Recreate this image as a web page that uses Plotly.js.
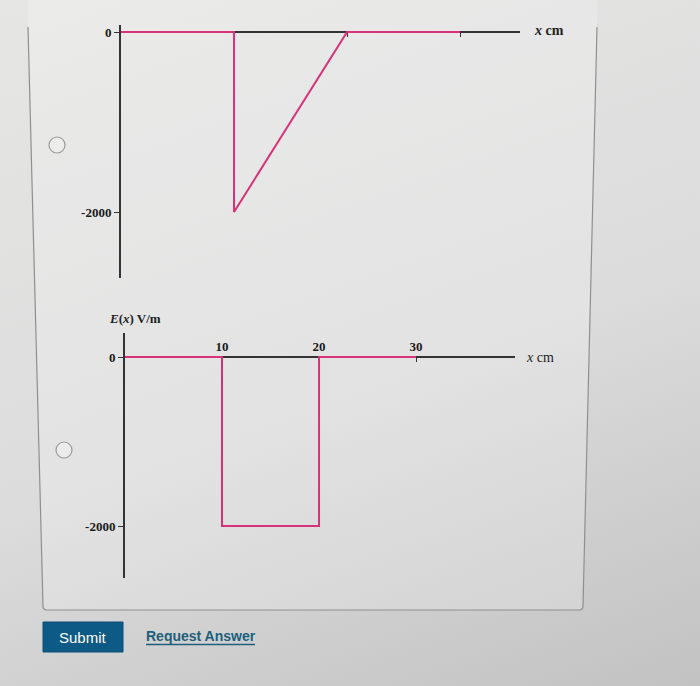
<!DOCTYPE html>
<html>
<head>
<meta charset="utf-8">
<script src="https://cdn.plot.ly/plotly-3.0.1.min.js"></script>
<style>
  html, body { margin: 0; padding: 0; }
  body { width: 700px; height: 686px; overflow: hidden;
         background: linear-gradient(160deg, #e6e6e5 0%, #dcdcdc 55%, #c2c2c2 100%); }
  #chart { width: 700px; height: 686px; }
</style>
</head>
<body>
<div id="chart"></div>
<script>
// ---- data ----
const topX = [0, 10, 10, 20, 30];
const topE = [0, 0, -2000, 0, 0];
const botX = [0, 10, 10, 20, 20, 30];
const botE = [0, 0, -2000, -2000, 0, 0];
const xTickVals = [10, 20, 30];
const xTickText = ['10', '20', '30'];
const yTickVals = [0, -2000];
const yTickText = ['0', '-2000'];
const yLabel = '<i>E</i>(<i>x</i>) V/m';
const xLabel = '<i>x</i> cm';

// ---- helpers for page (pixel -> paper) ----
const W = 700, H = 686;
const px = x => x / W;
const py = y => 1 - y / H;
const P = (x, y) => px(x).toFixed(5) + ',' + py(y).toFixed(5);

const red = '#d9307a';
const axisCol = '#333333';
const serif = 'Liberation Serif, Times New Roman, serif';
const sans = 'Liberation Sans, Arial, sans-serif';

const traces = [
  { x: topX, y: topE, xaxis: 'x', yaxis: 'y', mode: 'lines', type: 'scatter',
    line: { color: red, width: 2 }, hoverinfo: 'skip', showlegend: false, cliponaxis: false },
  { x: botX, y: botE, xaxis: 'x2', yaxis: 'y2', mode: 'lines', type: 'scatter',
    line: { color: red, width: 2 }, hoverinfo: 'skip', showlegend: false, cliponaxis: false }
];

const tickFont = { family: serif, size: 13, color: '#1a1a1a', weight: 'bold' };

function xAxis(domain, range, pos, showLabels) {
  return {
    domain: domain, range: range, anchor: 'free', position: pos, side: 'top',
    showline: true, linecolor: axisCol, linewidth: 2, layer: 'below traces',
    showgrid: false, zeroline: false, ticks: 'inside', ticklen: 4, tickcolor: axisCol,
    tickvals: xTickVals, ticktext: xTickText, showticklabels: showLabels,
    tickfont: tickFont, fixedrange: true
  };
}
function yAxis(domain, range, anchor) {
  return {
    domain: domain, range: range, anchor: anchor,
    showline: true, linecolor: axisCol, linewidth: 2, layer: 'below traces',
    showgrid: false, zeroline: false, ticks: 'outside', ticklen: 5, tickcolor: axisCol,
    tickvals: yTickVals, ticktext: yTickText, tickfont: tickFont, fixedrange: true
  };
}

const panelFill = 'M ' + P(27.5, 0) + ' L ' + P(43, 606) + ' Q ' + P(43, 610) + ' ' + P(47, 610) +
  ' L ' + P(579, 610) + ' Q ' + P(583, 610) + ' ' + P(583, 606) + ' L ' + P(597.7, 0) + ' Z';
const panelLine = 'M ' + P(28, 27) + ' L ' + P(43, 606) + ' Q ' + P(43, 610) + ' ' + P(47, 610) +
  ' L ' + P(579, 610) + ' Q ' + P(583, 610) + ' ' + P(583, 606) + ' L ' + P(597, 27);

const shapes = [
  { type: 'path', xref: 'paper', yref: 'paper', path: panelFill, fillcolor: 'rgba(255,255,255,0.2)',
    line: { width: 0 }, layer: 'below' },
  { type: 'path', xref: 'paper', yref: 'paper', path: panelLine, fillcolor: 'rgba(0,0,0,0)',
    line: { color: '#8f8f8f', width: 1.2 }, layer: 'below' },
  // radio buttons
  { type: 'circle', xref: 'paper', yref: 'paper', x0: px(49), x1: px(65), y0: py(153), y1: py(137),
    line: { color: '#9a9a9a', width: 1.2 }, fillcolor: 'rgba(240,240,240,0.6)' },
  { type: 'circle', xref: 'paper', yref: 'paper', x0: px(56), x1: px(72), y0: py(458), y1: py(442),
    line: { color: '#9a9a9a', width: 1.2 }, fillcolor: 'rgba(240,240,240,0.6)' },
  // submit button
  { type: 'rect', xref: 'paper', yref: 'paper', x0: px(43), x1: px(123), y0: py(652), y1: py(622),
    fillcolor: '#0d5a86', line: { color: '#0b4f77', width: 1 } },
  // underline of link
  { type: 'line', xref: 'paper', yref: 'paper', x0: px(146), x1: px(255), y0: py(644.5), y1: py(644.5),
    line: { color: '#1d5f7c', width: 1.3 } }
];

const annotations = [
  { xref: 'paper', yref: 'paper', x: px(549), y: py(31), text: xLabel, showarrow: false,
    font: { family: serif, size: 14, color: '#222', weight: 'bold' }, xanchor: 'center', yanchor: 'middle' },
  { xref: 'paper', yref: 'paper', x: px(540), y: py(357), text: xLabel, showarrow: false,
    font: { family: serif, size: 14, color: '#222' }, xanchor: 'center', yanchor: 'middle' },
  { xref: 'paper', yref: 'paper', x: px(135), y: py(318), text: yLabel, showarrow: false,
    font: { family: serif, size: 13, color: '#222', weight: 'bold' }, xanchor: 'center', yanchor: 'middle' },
  { xref: 'paper', yref: 'paper', x: px(83), y: py(637), text: 'Submit', showarrow: false,
    font: { family: sans, size: 15, color: '#ffffff' }, xanchor: 'center', yanchor: 'middle' },
  { xref: 'paper', yref: 'paper', x: px(200.5), y: py(636), text: '<b>Request Answer</b>', showarrow: false,
    font: { family: sans, size: 14, color: '#1d5f7c' }, xanchor: 'center', yanchor: 'middle' }
];

const layout = {
  width: W, height: H,
  margin: { l: 0, r: 0, t: 0, b: 0, pad: 0 },
  paper_bgcolor: 'rgba(0,0,0,0)', plot_bgcolor: 'rgba(0,0,0,0)',
  showlegend: false,
  xaxis: xAxis([px(121), px(520)], [0, 35.3], py(32), false),
  yaxis: yAxis([py(278), py(25)], [-2733, 78], 'x'),
  xaxis2: xAxis([px(125), px(515)], [0, 40.2], py(357), true),
  yaxis2: yAxis([py(578), py(333)], [-2615, 284], 'x2'),
  shapes: shapes,
  annotations: annotations
};

Plotly.newPlot('chart', traces, layout, { staticPlot: true, displayModeBar: false });
</script>
</body>
</html>
